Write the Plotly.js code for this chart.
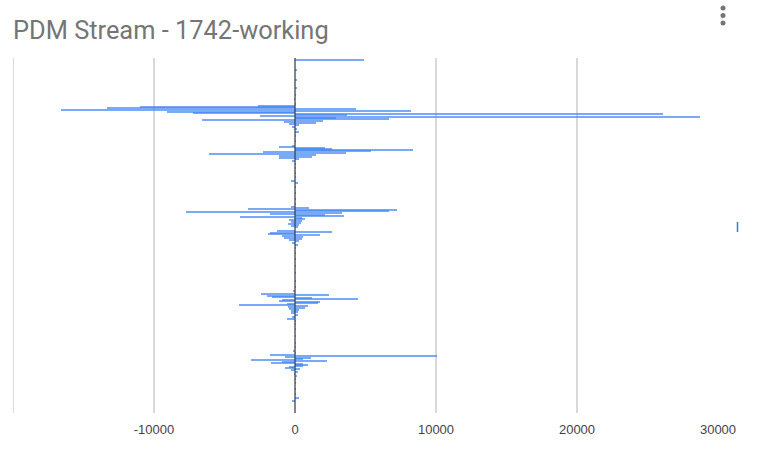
<!DOCTYPE html>
<html>
<head>
<meta charset="utf-8">
<script src="https://cdn.plot.ly/plotly-3.0.1.min.js"></script>
<style>html,body{margin:0;padding:0;background:#fff;}#chart{width:764px;height:468px;}</style>
</head>
<body>
<div id="chart"></div>
<script>
// Stream values, one per row, top to bottom
const values = [
  0,4900,0,0,0,0,0,0,0,0,
  0,150,0,0,0,0,0,0,0,0,
  0,120,0,0,0,0,0,0,0,150,
  0,0,0,0,0,0,100,0,0,0,
  -80,0,0,0,0,100,0,-2600,-11000,-13300,
  4300,-16600,8200,-9100,-7200,26100,3700,-2500,28700,2900,
  6700,-6600,2000,-800,1500,-400,300,0,-200,0,
  150,0,0,250,0,0,0,100,0,0,
  0,0,100,0,0,0,0,-200,-1100,2100,
  2600,8400,5400,-2300,3600,-6100,1500,-1100,1200,-1100,
  300,0,-200,0,0,100,0,0,0,100,
  0,0,0,0,80,0,0,0,100,0,
  0,0,-300,0,200,0,0,0,100,0,
  0,0,0,0,80,0,0,0,0,0,
  100,0,0,0,0,100,0,0,-300,1000,
  -3300,7200,6700,-7700,3300,-1800,2100,3500,-3900,500,
  700,-400,500,-300,400,-500,300,-300,200,0,
  0,0,-1300,2600,-1800,-1900,1800,-900,600,-800,
  500,-400,300,0,-200,0,200,0,0,100,
  0,0,0,0,80,0,0,0,0,0,
  100,0,0,0,0,0,0,80,0,0,
  0,0,0,0,100,0,0,0,0,0,
  0,0,100,0,0,0,0,0,100,0,
  0,0,-150,0,0,-2400,2400,-2000,-1600,1200,
  4500,-900,-1100,1800,1600,-600,-4000,900,-500,700,
  -400,300,-300,200,-300,0,200,0,-200,0,
  -600,0,100,0,0,100,0,0,0,0,
  80,0,0,0,0,0,0,100,0,0,
  0,0,0,0,80,0,0,0,100,0,
  0,0,-150,0,100,0,-1800,10100,-700,1100,
  600,-3100,2300,-900,-1700,600,900,600,-400,-700,
  350,-300,0,200,0,-100,0,150,0,0,
  100,0,0,0,80,0,0,0,0,0,
  80,0,0,0,0,80,0,0,0,300,
  0,0,-200,0,0,0,0,0,0,0,
  0,0,0,0,0
];
const rows = values.map((v, i) => i);
const tickValues = [-10000, 0, 10000, 20000, 30000];
const tickLabels = ['-10000', '0', '10000', '20000', '30000'];
const titleText = 'PDM Stream - 1742-working';

const N = values.length;
const W = 764, H = 468, L = 13, R = 46, T = 58, B = 55;
const pw = W - L - R, ph = H - T - B;
const px = x => (x - L) / pw;
const py = y => (H - B - y) / ph;

const trace = {
  type: 'bar', orientation: 'h',
  x: values, y: rows,
  width: 2.0,
  marker: {color: 'rgba(66,133,244,0.7)', line: {width: 0}},
  hoverinfo: 'x', showlegend: false
};

const shapes = [
  {type: 'line', xref: 'x', yref: 'paper', x0: -20000, x1: -20000, y0: 0, y1: 1, line: {color: '#d9d9d9', width: 2}, layer: 'below'},
  {type: 'line', xref: 'x', yref: 'paper', x0: 0, x1: 0, y0: 0, y1: 1, line: {color: '#333333', width: 1}, layer: 'above'},
  {type: 'line', xref: 'paper', yref: 'paper', x0: px(737.5), x1: px(737.5), y0: py(222), y1: py(232), line: {color: '#3a78e7', width: 1.5}}
];
[8, 15.5, 23].forEach(cy => {
  shapes.push({type: 'circle', xref: 'paper', yref: 'paper',
    x0: px(720.5), x1: px(725.5), y0: py(cy + 2.5), y1: py(cy - 2.5),
    fillcolor: '#757575', line: {width: 0}});
});

const layout = {
  width: W, height: H,
  margin: {l: L, r: R, t: T, b: B},
  paper_bgcolor: '#ffffff', plot_bgcolor: '#ffffff',
  font: {family: 'Arial, "Liberation Sans", sans-serif', color: '#444444', size: 13},
  title: {text: titleText, x: L / W, xanchor: 'left', xref: 'container',
          y: 1 - 30 / H, yanchor: 'middle', yref: 'container',
          font: {family: 'Roboto, Arial, sans-serif', size: 25.4, color: '#757575'}},
  bargap: 0,
  xaxis: {range: [-20000, 30000], tickvals: tickValues, ticktext: tickLabels,
          showgrid: true, gridcolor: '#d9d9d9', gridwidth: 2, zeroline: false,
          showline: false, ticks: '', ticklabelstandoff: 7,
          tickfont: {family: 'Arial, "Liberation Sans", sans-serif', size: 13, color: '#444444'},
          fixedrange: true},
  yaxis: {range: [N - 0.5, -0.5], showticklabels: false, showgrid: false,
          zeroline: false, showline: false, ticks: '', fixedrange: true},
  shapes: shapes,
  showlegend: false
};

Plotly.newPlot('chart', [trace], layout, {displayModeBar: false, staticPlot: true});
</script>
</body>
</html>
